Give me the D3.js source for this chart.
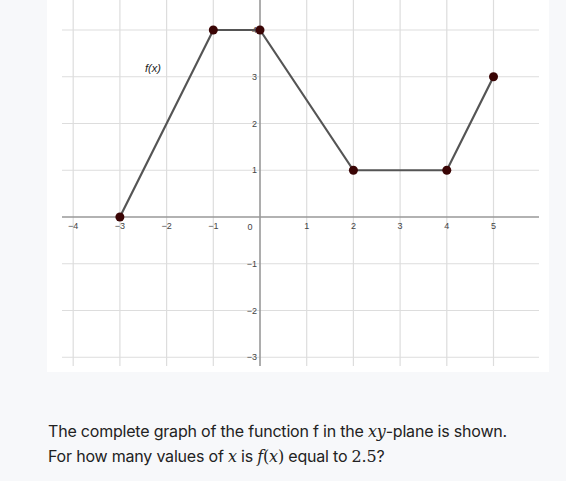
<!DOCTYPE html><html><head><meta charset="utf-8"><script src="https://cdn.jsdelivr.net/npm/d3@7"></script>
<style>body{margin:0;background:#f7f8fa;font-family:Inter,sans-serif}</style></head><body>
<svg id="c" width="566" height="481"></svg>
<script>
const xs=[-3,-1,0,2,4,5];
const ys=[0,4,4,1,1,3];
const xTicks=[-4,-3,-2,-1,1,2,3,4,5];
const yTicks=[-3,-2,-1,1,2,3,4];
const svg=d3.select("#c");
svg.append("rect").attr("x",47).attr("y",0).attr("width",502).attr("height",372).attr("fill","#fff");
const x=d3.scaleLinear().domain([0,1]).range([260,306.7]);
const y=d3.scaleLinear().domain([0,1]).range([217,170.25]);
const g=svg.append("g");
d3.range(-4,6).forEach(v=>{if(v!==0)g.append("line").attr("x1",x(v)).attr("x2",x(v)).attr("y1",0).attr("y2",366).attr("stroke","#ddd").attr("stroke-width",1.2);});
d3.range(-3,5).forEach(v=>{if(v!==0)g.append("line").attr("y1",y(v)).attr("y2",y(v)).attr("x1",62).attr("x2",539).attr("stroke","#ddd").attr("stroke-width",1.2);});
g.append("line").attr("x1",62).attr("x2",539).attr("y1",y(0)).attr("y2",y(0)).attr("stroke","#999").attr("stroke-width",1.6);
g.append("line").attr("x1",x(0)).attr("x2",x(0)).attr("y1",0).attr("y2",366).attr("stroke","#999").attr("stroke-width",1.6);
xTicks.forEach(v=>g.append("text").attr("x",x(v)).attr("y",y(0)+12).attr("text-anchor","middle").attr("font-size",9).attr("fill","#444").attr("font-family","Arial").text(v<0?"\u2212"+(-v):v));
g.append("text").attr("x",x(0)-10).attr("y",y(0)+13).attr("text-anchor","middle").attr("font-size",9).attr("fill","#444").attr("font-family","Arial").text("0");
yTicks.forEach(v=>g.append("text").attr("x",x(0)-3).attr("y",y(v)+3).attr("text-anchor","end").attr("font-size",9).attr("fill","#444").attr("font-family","Arial").text(v<0?"\u2212"+(-v):v));
const pts=xs.map((d,i)=>[d,ys[i]]);
g.append("path").attr("d",d3.line().x(d=>x(d[0])).y(d=>y(d[1]))(pts)).attr("fill","none").attr("stroke","#555").attr("stroke-width",2.2);
g.selectAll("circle").data(pts).join("circle").attr("cx",d=>x(d[0])).attr("cy",d=>y(d[1])).attr("r",4.5).attr("fill","#3a0505");
g.append("text").attr("x",145).attr("y",72).attr("font-size",11).attr("font-style","italic").attr("fill","#222").attr("font-family","Arial").text("f(x)");
const fs=16;
const t1=svg.append("text").attr("x",48).attr("y",437).attr("font-size",fs).attr("fill","#222").attr("letter-spacing",-0.2);
t1.append("tspan").text("The complete graph of the function f in the ");
t1.append("tspan").attr("font-family","DejaVu Serif").attr("font-style","italic").text("xy");
t1.append("tspan").text("-plane is shown.");
const t2=svg.append("text").attr("x",48).attr("y",462).attr("font-size",fs).attr("fill","#222").attr("letter-spacing",-0.2);
t2.append("tspan").text("For how many values of ");
t2.append("tspan").attr("font-family","DejaVu Serif").attr("font-style","italic").text("x");
t2.append("tspan").text(" is ");
t2.append("tspan").attr("font-family","DejaVu Serif").attr("font-style","italic").text("f");
t2.append("tspan").attr("font-family","DejaVu Serif").text("(");
t2.append("tspan").attr("font-family","DejaVu Serif").attr("font-style","italic").text("x");
t2.append("tspan").attr("font-family","DejaVu Serif").text(")");
t2.append("tspan").text(" equal to ");
t2.append("tspan").attr("font-family","DejaVu Serif").text("2.5");
t2.append("tspan").text("?");
</script></body></html>
